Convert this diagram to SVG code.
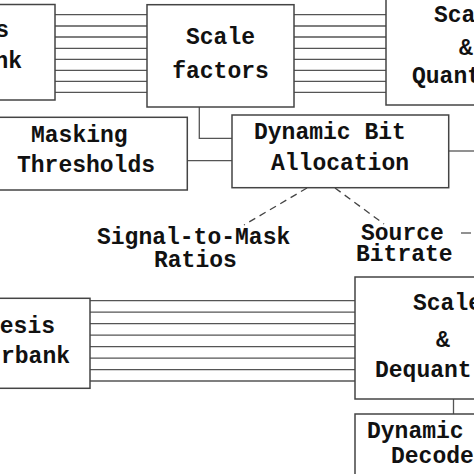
<svg xmlns="http://www.w3.org/2000/svg" width="474" height="474" viewBox="0 0 474 474">
<style>
.box{fill:#fff;stroke:#444;stroke-width:1.5}
.ln{fill:none;stroke:#555;stroke-width:1.3}
.dash{fill:none;stroke:#444;stroke-width:1.3;stroke-dasharray:7 5}
text{font-family:"Liberation Mono","Courier New",monospace;font-weight:bold;font-size:23px;fill:#111}
</style>
<rect width="474" height="474" fill="#fff"/>
<g id="connectors">
<path class="ln" d="M55 14.7H147M55 26H147M55 37H147M55 48.3H147M55 59.3H147M55 70.3H147M55 81.3H147M55 92.3H147"/>
<path class="ln" d="M294 14.7H386M294 26H386M294 37H386M294 48.3H386M294 59.3H386M294 70.3H386M294 81.3H386M294 92.3H386"/>
<path class="ln" d="M199.3 107V138.3H232"/>
<path class="ln" d="M187.3 160.7H232"/>
<path class="ln" d="M448.7 151H474"/>
<path class="dash" d="M307 188L244 225"/>
<path class="dash" d="M335 188L384 224"/>
<path class="ln" d="M461 233H471"/>
<path class="ln" d="M90 300.7H355M90 312.2H355M90 323.7H355M90 335.1H355M90 346.6H355M90 358.1H355M90 369.6H355M90 381H355"/>
<path class="ln" d="M453.5 399V414"/>
</g>
<g id="analysis">
<rect class="box" x="-150" y="4.5" width="205" height="95.5"/>
<text x="9" y="37" text-anchor="end">s</text>
<text x="22" y="68" text-anchor="end">nk</text>
</g>
<g id="scale-factors">
<rect class="box" x="147" y="4.7" width="147" height="102.3"/>
<text x="220.5" y="44" text-anchor="middle">Scale</text>
<text x="220.5" y="78" text-anchor="middle">factors</text>
</g>
<g id="scale-quantize">
<rect class="box" x="386" y="-20" width="150" height="125"/>
<text x="434" y="22">Sca</text>
<text x="459" y="55">&amp;</text>
<text x="412" y="83">Quant</text>
</g>
<g id="masking">
<rect class="box" x="-20" y="117.3" width="207.3" height="72.7"/>
<text x="31" y="142">Masking</text>
<text x="17" y="172">Thresholds</text>
</g>
<g id="dba">
<rect class="box" x="232" y="115" width="216.7" height="72.7"/>
<text x="254" y="139">Dynamic Bit</text>
<text x="271" y="170">Allocation</text>
</g>
<g id="smr">
<text x="97" y="244">Signal-to-Mask</text>
<text x="154" y="267">Ratios</text>
</g>
<g id="bitrate">
<text x="361" y="240">Source</text>
<text x="356" y="261">Bitrate</text>
</g>
<g id="synthesis">
<rect class="box" x="-150" y="298.3" width="240" height="90"/>
<text x="55" y="333" text-anchor="end">esis</text>
<text x="70" y="363" text-anchor="end">rbank</text>
</g>
<g id="scale-dequantize">
<rect class="box" x="355" y="277" width="150" height="122"/>
<text x="413" y="310">Scale</text>
<text x="436" y="347">&amp;</text>
<text x="375" y="377">Dequant</text>
</g>
<g id="decoder">
<rect class="box" x="355" y="414" width="150" height="80"/>
<text x="367" y="438">Dynamic</text>
<text x="391" y="463">Decode</text>
</g>
</svg>
